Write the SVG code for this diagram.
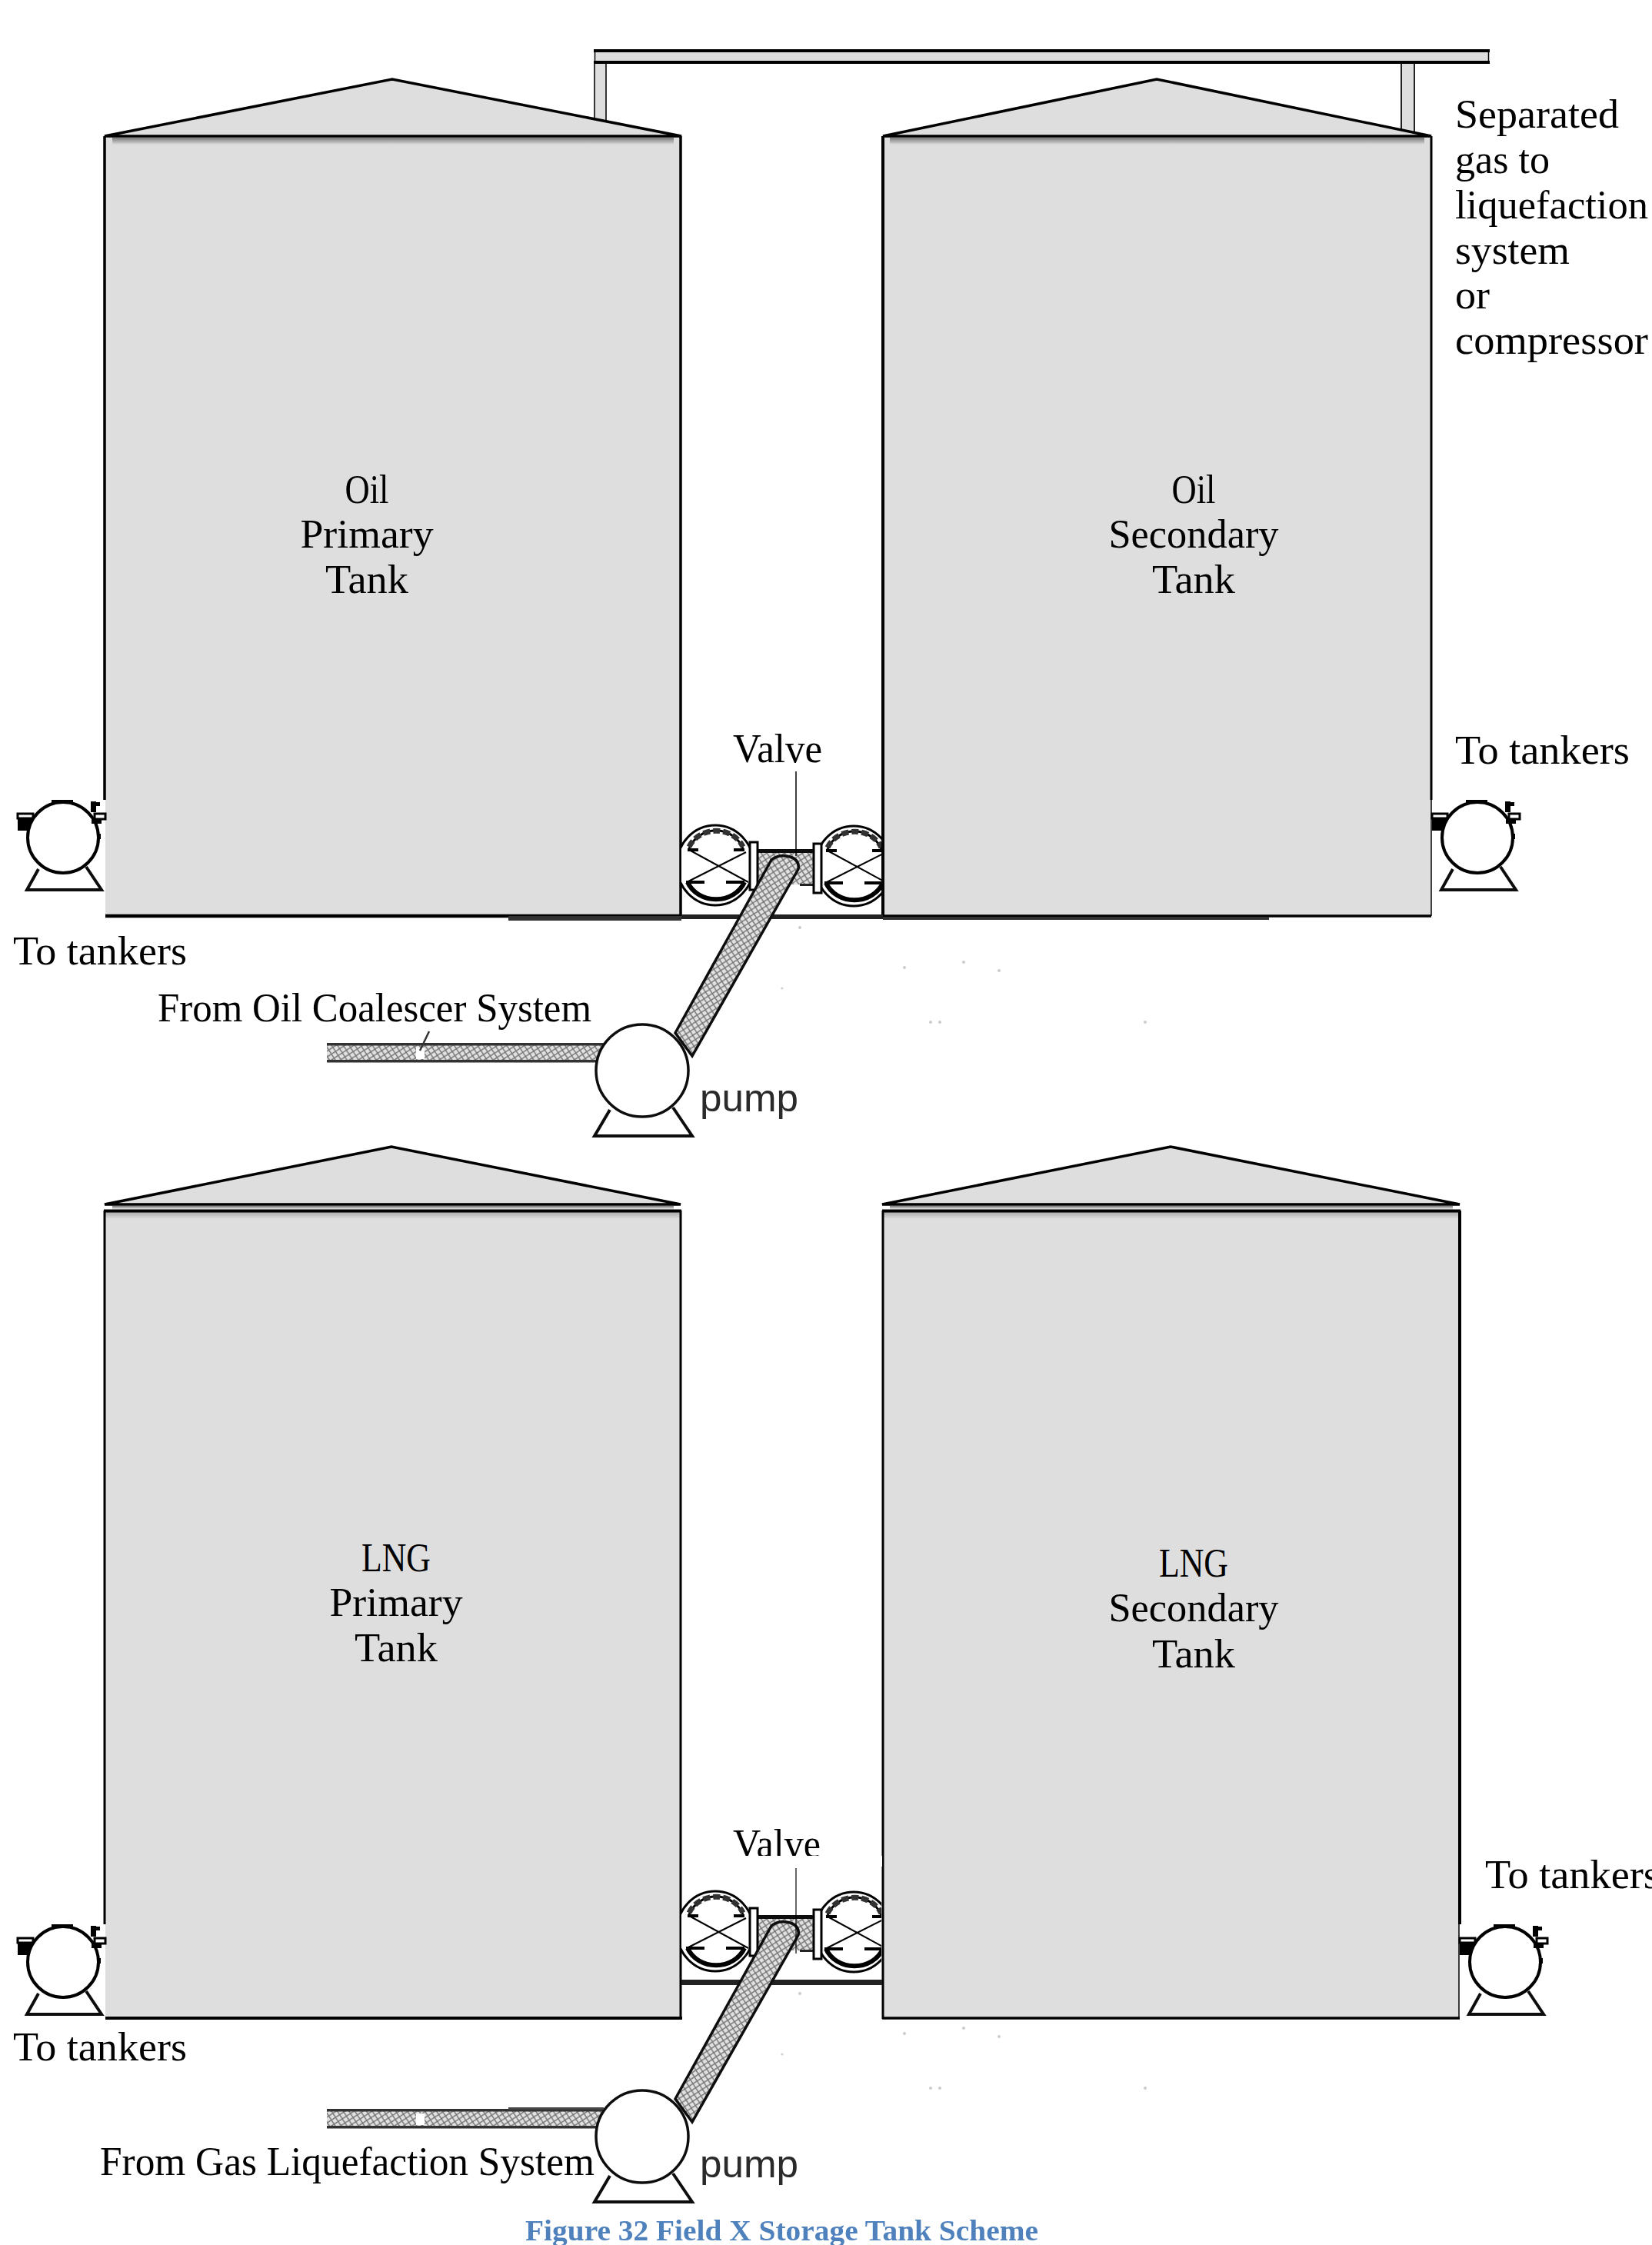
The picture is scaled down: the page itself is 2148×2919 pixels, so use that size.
<svg xmlns="http://www.w3.org/2000/svg" xmlns:xlink="http://www.w3.org/1999/xlink" width="2148" height="2919" viewBox="0 0 2148 2919">
<style>
.tank{fill:#dedede}
.edge{stroke:#000;fill:none;stroke-width:3.5}
.roof{fill:#dedede;stroke:#000;stroke-width:3.5;stroke-linejoin:miter}
.t{font-family:"Liberation Serif",Cambria,serif;font-size:52px;fill:#000}
.ctr{text-anchor:middle}
.cap{font-family:"Liberation Serif",Cambria,serif;font-size:37px;font-weight:bold;fill:#4f81bd}
.pumpword{font-family:"Liberation Sans",Arial,sans-serif;font-size:50px;fill:#2a2a2a}
.ln2{stroke:#111;stroke-width:4;fill:none}
.wh{fill:#fff;stroke:#000;stroke-width:3}
.bk{fill:#000}
.sp{fill:#ccc}
</style>
<defs>
<pattern id="hatch" width="9" height="9" patternUnits="userSpaceOnUse" patternTransform="rotate(12)">
<rect width="9" height="9" fill="#e2e2e2"/>
<path d="M0 4.5L4.5 0L9 4.5L4.5 9Z" fill="none" stroke="#6e6e6e" stroke-width="1.3"/>
</pattern>
<linearGradient id="shade" x1="0" y1="0" x2="0" y2="1">
<stop offset="0" stop-color="#777"/>
<stop offset="1" stop-color="#dedede"/>
</linearGradient>
<linearGradient id="shadew" x1="0" y1="0" x2="0" y2="1">
<stop offset="0" stop-color="#777"/>
<stop offset="1" stop-color="#fff"/>
</linearGradient>
<filter id="soft" x="-5%" y="-50%" width="110%" height="200%"><feGaussianBlur stdDeviation="0.6"/></filter>
<clipPath id="cv1"><rect x="-44" y="-60" width="90" height="120"/></clipPath>
<clipPath id="cv2"><rect x="-42" y="-60" width="78" height="120"/></clipPath>
<g id="smallPump" filter="url(#soft)">
<rect x="-59" y="-31" width="20" height="6" class="wh" stroke-width="2"/>
<rect x="-59" y="-24" width="20" height="15" class="bk"/>
<path d="M-32 41L-47 68H50L30 38" class="ln2"/>
<circle r="46" fill="#fff" stroke="#000" stroke-width="4"/>
<path d="M-15 -46.500H13" stroke="#000" stroke-width="5"/>
<rect x="36" y="-47" width="7" height="14" class="bk"/>
<rect x="43" y="-46" width="5" height="5" class="bk"/>
<rect x="41" y="-31" width="14" height="7" class="wh" stroke-width="2"/>
<rect x="37" y="-24" width="13" height="6" class="bk"/>
<rect x="44" y="-5" width="5" height="7" class="bk"/>
</g>
<g id="valveBody">
<ellipse rx="50" ry="52" fill="#fff" stroke="#000" stroke-width="3"/>
<path d="M-34 -22A38 38 0 0 1 36 -22" fill="none" stroke="#000" stroke-width="3"/>
<path d="M-34 -24A38 34 0 0 1 36 -24" fill="none" stroke="#333" stroke-width="7" stroke-dasharray="9 4"/>
<path d="M-36 -20H-22M24 -20H38M-38 22H-14M14 22H38" stroke="#000" stroke-width="4"/>
<path d="M-34 -20L43 22M-37 22L40 -17" stroke="#000" stroke-width="2"/>
<path d="M-36 22A40 36 0 0 0 38 22" fill="none" stroke="#000" stroke-width="6"/>
</g>
<g id="station">
<g filter="url(#soft)">
<rect x="985" y="1106" width="74" height="44" fill="url(#hatch)"/>
<rect x="985" y="1104" width="74" height="5" fill="#111"/>
<rect x="1040" y="1149" width="19" height="3" fill="#222"/>
<g clip-path="url(#cv1)" transform="translate(930 1125)"><use xlink:href="#valveBody"/></g>
<g clip-path="url(#cv2)" transform="translate(1110 1126)"><use xlink:href="#valveBody"/></g>
<rect x="975" y="1095" width="10" height="62" class="wh"/>
<rect x="1058" y="1097" width="10" height="64" class="wh"/>
<path d="M878 1343L1003 1118Q1012 1110 1027 1114Q1040 1118 1038 1130L900 1373Z" fill="url(#hatch)" stroke="#111" stroke-width="3.500"/>
<rect x="425" y="1359" width="370" height="20" fill="url(#hatch)"/>
<rect x="425" y="1356" width="365" height="3.500" fill="#333"/>
<rect x="425" y="1378" width="365" height="3.500" fill="#333"/>
<rect x="541" y="1362" width="11" height="15" fill="#fff"/>
<path d="M793 1443L773 1477H900L875 1440" class="ln2"/>
<circle cx="835" cy="1392" r="60" fill="#fff" stroke="#111" stroke-width="3.500"/>
<text x="910" y="1445" class="pumpword" textLength="128" lengthAdjust="spacingAndGlyphs">pump</text>
</g>
<g class="sp">
<circle cx="1040" cy="1206" r="2"/><circle cx="1176" cy="1258" r="2"/><circle cx="1253" cy="1251" r="2"/><circle cx="1299" cy="1262" r="2"/>
<circle cx="1210" cy="1329" r="2"/><circle cx="1222" cy="1329" r="2"/><circle cx="1489" cy="1329" r="2"/><circle cx="1017" cy="1285" r="1.500"/>
</g>
</g>
</defs>
<rect width="2148" height="2919" fill="#fff"/>

<g id="connectors">
<g id="gas-line">
<rect x="773" y="80" width="15" height="80" fill="#dedede"/>
<path d="M773 80V155M788 80V158" stroke="#222" stroke-width="1.800"/>
<rect x="1822" y="80" width="17" height="95" fill="#dedede"/>
<path d="M1822 80V170M1839 80V174" stroke="#222" stroke-width="2"/>
<rect x="773" y="66" width="1163" height="15" fill="#dedede"/>
<path d="M772 66H1937M772 81H1937" stroke="#000" stroke-width="4"/>
<path d="M773.500 66V81M1935.500 66V81" stroke="#000" stroke-width="1.500"/>
</g>
</g>

<g id="oil-primary-tank">
<rect class="tank" x="137" y="177" width="748" height="1013"/>
<rect x="146" y="179" width="730" height="9" fill="url(#shade)"/>
<path class="roof" d="M136 177L510 103L886 177Z"/>
<path class="edge" d="M136 177V1040" stroke-width="3"/>
<path class="edge" d="M885 177V1191" stroke-width="3"/>
<path d="M137 1191H886" stroke="#000" stroke-width="4.500"/>
<text class="t ctr" x="477" y="654" textLength="57" lengthAdjust="spacingAndGlyphs">Oil</text>
<text class="t ctr" x="477" y="712" textLength="173" lengthAdjust="spacingAndGlyphs">Primary</text>
<text class="t ctr" x="477" y="771" textLength="108" lengthAdjust="spacingAndGlyphs">Tank</text>
</g>

<g id="oil-secondary-tank">
<rect class="tank" x="1148" y="177" width="713" height="1013"/>
<rect x="1157" y="179" width="695" height="9" fill="url(#shade)"/>
<path class="roof" d="M1148 177L1504 103L1861 177Z"/>
<path d="M1148 177V1191" stroke="#000" stroke-width="4"/>
<path d="M1861 177V1040" stroke="#000" stroke-width="3"/>
<path d="M1861 1040V1191" stroke="#000" stroke-width="1.500"/>
<path d="M1148 1191H1861" stroke="#000" stroke-width="3.500"/>
<text class="t ctr" x="1552" y="654" textLength="57" lengthAdjust="spacingAndGlyphs">Oil</text>
<text class="t ctr" x="1552" y="712" textLength="221" lengthAdjust="spacingAndGlyphs">Secondary</text>
<text class="t ctr" x="1552" y="771" textLength="108" lengthAdjust="spacingAndGlyphs">Tank</text>
</g>

<g id="lng-primary-tank">
<rect class="tank" x="137" y="1574" width="748" height="1049"/>
<rect x="137" y="1576" width="748" height="9" fill="url(#shade)" opacity="0.5"/>
<rect x="146" y="1568" width="730" height="5" fill="url(#shadew)"/>
<path class="roof" d="M136 1566L509 1491L885 1566Z"/>
<path d="M135 1574.500H886" stroke="#000" stroke-width="4"/>
<path d="M136 1574V2502" stroke="#000" stroke-width="3"/>
<path d="M885 1574V2625" stroke="#000" stroke-width="3"/>
<path d="M137 2624H887" stroke="#000" stroke-width="4"/>
<text class="t ctr" x="515" y="2043" textLength="90" lengthAdjust="spacingAndGlyphs">LNG</text>
<text class="t ctr" x="515" y="2101" textLength="173" lengthAdjust="spacingAndGlyphs">Primary</text>
<text class="t ctr" x="515" y="2160" textLength="108" lengthAdjust="spacingAndGlyphs">Tank</text>
</g>

<g id="lng-secondary-tank">
<rect class="tank" x="1148" y="1574" width="749" height="1049"/>
<rect x="1148" y="1576" width="749" height="9" fill="url(#shade)" opacity="0.5"/>
<rect x="1157" y="1568" width="732" height="5" fill="url(#shadew)"/>
<path class="roof" d="M1147 1566L1522 1491L1898 1566Z"/>
<path d="M1147 1574.500H1899" stroke="#000" stroke-width="4"/>
<path d="M1148 1574V2625" stroke="#000" stroke-width="3"/>
<path d="M1898 1574V2502" stroke="#000" stroke-width="4"/>
<path d="M1897 2502V2624" stroke="#000" stroke-width="1.500"/>
<path d="M1147 2624H1898" stroke="#000" stroke-width="3.500"/>
<text class="t ctr" x="1552" y="2050" textLength="90" lengthAdjust="spacingAndGlyphs">LNG</text>
<text class="t ctr" x="1552" y="2108" textLength="221" lengthAdjust="spacingAndGlyphs">Secondary</text>
<text class="t ctr" x="1552" y="2168" textLength="108" lengthAdjust="spacingAndGlyphs">Tank</text>
</g>

<g id="oil-station">
<rect x="661" y="1191" width="225" height="6" fill="#333" filter="url(#soft)"/>
<rect x="886" y="1189" width="262" height="6" fill="#222" filter="url(#soft)"/>
<rect x="1148" y="1192" width="502" height="4" fill="#333" filter="url(#soft)"/>
<use xlink:href="#station"/>
<path d="M558 1341L546 1366" stroke="#333" stroke-width="2.500"/>
<path d="M1035 1003V1113" stroke="#000" stroke-width="1.500"/>
</g>

<g id="lng-station">
<text class="t" x="953" y="2415" textLength="114" lengthAdjust="spacingAndGlyphs">Valve</text>
<rect x="887" y="2413" width="260" height="14" fill="#fff"/>
<rect x="886" y="2574" width="261" height="7" fill="#222" filter="url(#soft)"/>
<g transform="translate(0 1386)"><use xlink:href="#station"/></g>
<rect x="661" y="2740" width="124" height="3" fill="#444" filter="url(#soft)"/>
<path d="M1035 2429V2540" stroke="#000" stroke-width="1.200"/>
</g>

<g id="pump-oil-left"><use xlink:href="#smallPump" x="82" y="1089"/></g>
<g id="pump-oil-right"><use xlink:href="#smallPump" x="1921" y="1089"/></g>
<g id="pump-lng-left"><use xlink:href="#smallPump" x="82" y="2551"/></g>
<g id="pump-lng-right"><use xlink:href="#smallPump" x="1957" y="2551"/></g>

<g id="labels">
<text class="t" x="1892" y="166" textLength="213" lengthAdjust="spacingAndGlyphs">Separated</text>
<text class="t" x="1892" y="225" textLength="123" lengthAdjust="spacingAndGlyphs">gas to</text>
<text class="t" x="1892" y="284" textLength="251" lengthAdjust="spacingAndGlyphs">liquefaction</text>
<text class="t" x="1892" y="343" textLength="149" lengthAdjust="spacingAndGlyphs">system</text>
<text class="t" x="1892" y="401" textLength="45" lengthAdjust="spacingAndGlyphs">or</text>
<text class="t" x="1892" y="460" textLength="251" lengthAdjust="spacingAndGlyphs">compressor</text>
<text class="t" x="953" y="991" textLength="116" lengthAdjust="spacingAndGlyphs">Valve</text>
<text class="t" x="1892" y="993" textLength="227" lengthAdjust="spacingAndGlyphs">To tankers</text>
<text class="t" x="17" y="1254" textLength="226" lengthAdjust="spacingAndGlyphs">To tankers</text>
<text class="t" x="205" y="1328" textLength="564" lengthAdjust="spacingAndGlyphs">From Oil Coalescer System</text>
<text class="t" x="1931" y="2455" textLength="227" lengthAdjust="spacingAndGlyphs">To tankers</text>
<text class="t" x="17" y="2679" textLength="226" lengthAdjust="spacingAndGlyphs">To tankers</text>
<text class="t" x="130" y="2828" textLength="643" lengthAdjust="spacingAndGlyphs">From Gas Liquefaction System</text>
<text class="cap" x="683" y="2913" textLength="667" lengthAdjust="spacingAndGlyphs">Figure 32 Field X Storage Tank Scheme</text>
</g>
</svg>
